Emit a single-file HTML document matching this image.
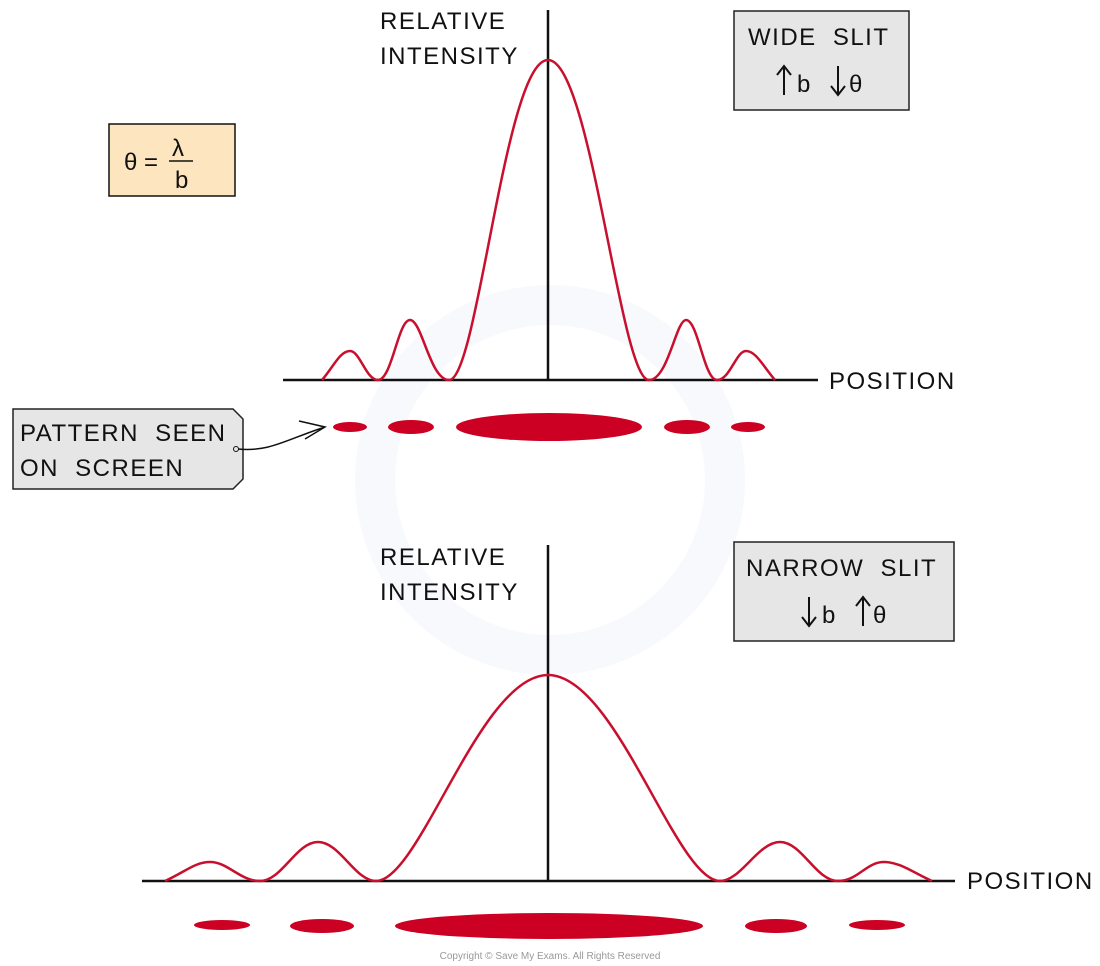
<!DOCTYPE html>
<html><head><meta charset="utf-8"><style>
html,body{margin:0;padding:0;background:#fff;}
svg{display:block;}
text{font-family:"Liberation Sans","DejaVu Sans",sans-serif;fill:#111;}
</style></head><body>
<svg width="1100" height="966" viewBox="0 0 1100 966" xmlns="http://www.w3.org/2000/svg">
<circle cx="550" cy="480" r="175" fill="none" stroke="#f7f9fd" stroke-width="40"/>
<!-- TOP -->
<line x1="283" y1="380" x2="818" y2="380" stroke="#111" stroke-width="2.5"/>
<line x1="548" y1="10" x2="548" y2="380" stroke="#111" stroke-width="2.5"/>
<path d="M322,380 C334,366 340,351 350,351 C360,351 366,380 378,380 C392,380 398,320 410,320 C422,320 430,380 449,380 C478,380 505,60 548,60 C591,60 620,380 649,380 C668,380 676,320 686,320 C698,320 704,380 717,380 C730,380 736,351 746,351 C756,351 763,366 775,380" fill="none" stroke="#c8102e" stroke-width="2.5"/>
<g font-size="24" letter-spacing="1.5">
<text x="380" y="29">RELATIVE</text>
<text x="380" y="64">INTENSITY</text>
<text x="829" y="389">POSITION</text>
</g>
<g fill="#cc0022">
<ellipse cx="350" cy="427" rx="17" ry="5"/>
<ellipse cx="411" cy="427" rx="23" ry="7"/>
<ellipse cx="549" cy="427" rx="93" ry="14"/>
<ellipse cx="687" cy="427" rx="23" ry="7"/>
<ellipse cx="748" cy="427" rx="17" ry="5"/>
</g>
<!-- formula -->
<rect x="109" y="124" width="126" height="72" fill="#fde5bf" stroke="#111" stroke-width="1.5"/>
<text x="124" y="170" font-size="24">θ =</text>
<text x="172" y="156" font-size="24">λ</text>
<line x1="169" y1="161" x2="193" y2="161" stroke="#111" stroke-width="1.5"/>
<text x="175" y="188" font-size="24">b</text>
<!-- wide slit -->
<rect x="734" y="11" width="175" height="99" fill="#e6e6e6" stroke="#222" stroke-width="1.5"/>
<text x="748" y="45" font-size="24" letter-spacing="1.5" word-spacing="8">WIDE SLIT</text>
<g stroke="#111" stroke-width="2" fill="none">
<path d="M784,95 L784,66 M777,75 L784,66 L791,75"/>
<path d="M838,66 L838,95 M831,86 L838,95 L845,86"/>
</g>
<text x="797" y="92" font-size="24">b</text>
<text x="849" y="92" font-size="24">θ</text>
<!-- pattern tag -->
<path d="M13,409 L233,409 L243,419 L243,479 L233,489 L13,489 Z" fill="#e6e6e6" stroke="#222" stroke-width="1.5"/>
<g font-size="24" letter-spacing="1.5" word-spacing="8">
<text x="20" y="441">PATTERN SEEN</text>
<text x="20" y="476">ON SCREEN</text>
</g>
<circle cx="236" cy="449" r="2.5" fill="none" stroke="#111" stroke-width="1"/>
<path d="M238,449 C270,452 285,440 325,427 M299,421 L325,427 L305,439" fill="none" stroke="#111" stroke-width="1.5"/>
<!-- BOTTOM -->
<line x1="142" y1="881" x2="955" y2="881" stroke="#111" stroke-width="2.5"/>
<line x1="548" y1="545" x2="548" y2="881" stroke="#111" stroke-width="2.5"/>
<path d="M165,881 C185,872 195,862 210,862 C228,862 240,881 260,881 C282,881 296,842 318,842 C340,842 355,881 376,881 C420,881 480,675 548,675 C616,675 676,881 720,881 C741,881 758,842 780,842 C802,842 816,881 838,881 C858,881 866,862 884,862 C900,862 912,872 932,881" fill="none" stroke="#c8102e" stroke-width="2.5"/>
<g font-size="24" letter-spacing="1.5">
<text x="380" y="565">RELATIVE</text>
<text x="380" y="600">INTENSITY</text>
<text x="967" y="889">POSITION</text>
</g>
<g fill="#cc0022">
<ellipse cx="222" cy="925" rx="28" ry="5"/>
<ellipse cx="322" cy="926" rx="32" ry="7"/>
<ellipse cx="549" cy="926" rx="154" ry="13"/>
<ellipse cx="776" cy="926" rx="31" ry="7"/>
<ellipse cx="877" cy="925" rx="28" ry="5"/>
</g>
<rect x="734" y="542" width="220" height="99" fill="#e6e6e6" stroke="#222" stroke-width="1.5"/>
<text x="746" y="576" font-size="24" letter-spacing="1.5" word-spacing="8">NARROW SLIT</text>
<g stroke="#111" stroke-width="2" fill="none">
<path d="M809,597 L809,626 M802,617 L809,626 L816,617"/>
<path d="M863,626 L863,597 M856,606 L863,597 L870,606"/>
</g>
<text x="822" y="623" font-size="24">b</text>
<text x="873" y="623" font-size="24">θ</text>
<text x="550" y="959" font-size="10" text-anchor="middle" style="fill:#999">Copyright © Save My Exams. All Rights Reserved</text>
</svg>
</body></html>
